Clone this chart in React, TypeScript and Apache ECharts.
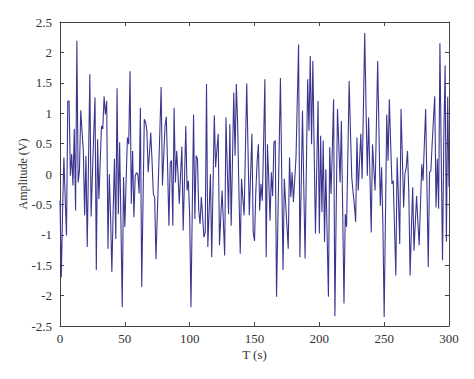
import React, { useEffect, useRef } from "react";
import * as echarts from "echarts";

// Amplitude samples, one per second, T = 0 .. 300
const amplitude: number[] = [
  -0.44, -1.7, -0.6, 0.27, -0.4, -1.01, 1.2, 1.2, -0.03, 0.33,
  -0.19, 0.74, -0.6, 2.19, -0.14, 0.05, 1.05, 0.7, 0.38, -0.68,
  0.3, -1.2, 0.2, 1.64, -0.7, 0.0, 0.65, 1.26, -1.58, 0.57,
  -0.41, 0.2, 0.79, 0.74, 1.28, 0.98, 1.2, -1.23, 0.0, -0.7,
  -1.61, -0.6, 0.25, -1.07, 1.41, -0.66, 0.52, -0.82, -2.19, -0.05,
  -0.87, -0.1, 0.6, 0.49, 1.69, -0.49, 0.38, -0.71, -0.03, 0.02,
  0.0, -0.32, 1.09, -1.86, -0.5, 0.9, 0.85, 0.71, 0.03, 0.35,
  0.68, 0.2, -0.33, -0.38, -1.4, -0.7, 0.0, 0.7, 1.43, -0.19,
  0.3, 0.79, 0.94, 0.1, -0.85, 0.19, 0.22, -0.85, 1.09, -0.14,
  0.38, 0.0, -0.49, 0.0, 0.45, -0.93, -0.1, 0.79, -0.27, -0.11,
  -0.68, -2.19, -0.6, 0.98, -0.74, 0.3, 0.25, -0.6, -0.82, -0.38,
  -0.7, -1.04, -0.96, 1.48, -1.2, -0.6, 0.0, -1.37, -0.2, 0.96,
  0.11, 0.4, 0.66, -1.17, -0.7, -0.27, -0.8, -1.34, 0.93, 0.1,
  -0.66, 0.82, -0.85, 0.2, 1.34, 0.3, 1.48, 0.82, -0.3, -1.31,
  -0.08, -0.4, -0.68, 0.4, 1.49, 0.4, -0.68, 0.0, 0.66, -0.96,
  -1.1, -0.3, 0.2, 0.49, -0.6, -0.16, -0.44, 0.5, 1.56, -1.37,
  0.49, -0.1, -0.77, 0.03, -0.36, 0.52, 0.55, -2.02, -0.8, 0.4,
  1.58, 0.0, -1.58, -0.08, -0.49, -0.85, -1.23, 0.27, -0.38, 0.03,
  -0.46, -0.1, 0.27, 1.2, 2.13, -1.37, -0.2, 1.04, -0.2, -1.39,
  0.1, 1.56, 0.71, 1.94, 0.49, 1.86, 0.4, -0.98, 0.1, 1.2,
  -0.98, 0.63, -0.63, 0.55, -1.12, 0.08, -1.0, -2.02, 0.44, -0.33,
  0.4, 1.23, -2.34, -0.6, 1.07, 0.5, -0.14, 0.87, -0.6, -2.13,
  -0.66, -0.87, 0.3, 1.53, 0.7, -0.05, -0.3, -0.5, -0.79, 0.6,
  -0.27, 0.2, 0.66, -0.08, 1.1, 2.32, 1.1, -0.03, 0.93, 0.0,
  -0.96, 0.49, 0.1, -0.27, 0.8, 1.86, 0.7, -0.52, 0.11, -0.82,
  -2.35, -0.7, 0.98, 0.22, 1.23, 0.5, -0.16, -0.11, -0.9, -1.67,
  0.27, -0.4, -1.15, 1.07, 0.3, -0.55, 0.0, 0.1, 0.38, -0.3,
  -1.67, -0.9, -0.22, -1.26, -0.8, -0.36, -0.8, -1.17, -0.5, 0.16,
  -0.11, 0.5, 1.07, -0.2, -1.53, 0.03, 0.05, 0.49, 0.9, 1.28,
  -0.55, 0.25, -0.57, 2.15, 0.3, -1.42, 0.6, 1.79, -1.11, 1.27,
  -0.21,
];

const xTicks = { min: 0, max: 300, interval: 50 };
const yTicks = { min: -2.5, max: 2.5, interval: 0.5 };
const xName = "T (s)";
const yName = "Amplitude (V)";

const FONT = "Liberation Serif, Times New Roman, serif";
const AXIS_COLOR = "#444";
const LABEL_COLOR = "#333";
const LINE_COLOR = "#3a3690";

export default function App() {
  const ref = useRef<HTMLDivElement>(null);

  useEffect(() => {
    if (!ref.current) return;
    const chart = echarts.init(ref.current, undefined, { renderer: "svg" });
    const data = amplitude.map((v, i) => [i, v]);

    const baseAxisLine = { show: true, onZero: false, lineStyle: { color: AXIS_COLOR, width: 1 } };
    const tick = { show: true, inside: true, length: 4, lineStyle: { color: AXIS_COLOR, width: 1 } };

    chart.setOption({
      animation: false,
      backgroundColor: "#ffffff",
      grid: { left: 60, right: 25, top: 22, bottom: 53 },
      xAxis: [
        {
          type: "value",
          position: "bottom",
          min: xTicks.min,
          max: xTicks.max,
          interval: xTicks.interval,
          name: xName,
          nameLocation: "middle",
          nameGap: 22,
          nameMoveOverlap: false,
          nameTextStyle: { fontFamily: FONT, fontSize: 13, color: LABEL_COLOR },
          axisLine: baseAxisLine,
          axisTick: tick,
          splitLine: { show: false },
          axisLabel: { fontFamily: FONT, fontSize: 13, color: LABEL_COLOR, margin: 6 },
        },
        {
          type: "value",
          position: "top",
          min: xTicks.min,
          max: xTicks.max,
          interval: xTicks.interval,
          axisLine: baseAxisLine,
          axisTick: tick,
          splitLine: { show: false },
          axisLabel: { show: false },
        },
      ],
      yAxis: [
        {
          type: "value",
          position: "left",
          min: yTicks.min,
          max: yTicks.max,
          interval: yTicks.interval,
          name: yName,
          nameLocation: "middle",
          nameGap: 31,
          nameMoveOverlap: false,
          nameTextStyle: { fontFamily: FONT, fontSize: 12, color: LABEL_COLOR },
          axisLine: baseAxisLine,
          axisTick: tick,
          splitLine: { show: false },
          axisLabel: { fontFamily: FONT, fontSize: 13, color: LABEL_COLOR, margin: 8 },
        },
        {
          type: "value",
          position: "right",
          min: yTicks.min,
          max: yTicks.max,
          interval: yTicks.interval,
          axisLine: baseAxisLine,
          axisTick: tick,
          splitLine: { show: false },
          axisLabel: { show: false },
        },
      ],
      series: [
        {
          type: "line",
          data,
          xAxisIndex: 0,
          yAxisIndex: 0,
          showSymbol: false,
          lineStyle: { color: LINE_COLOR, width: 1.1 },
        },
      ],
    });

    return () => chart.dispose();
  }, []);

  return (
    <div
      ref={ref}
      style={{ position: "fixed", left: 0, top: 0, width: 474, height: 379, background: "#fff" }}
    />
  );
}
